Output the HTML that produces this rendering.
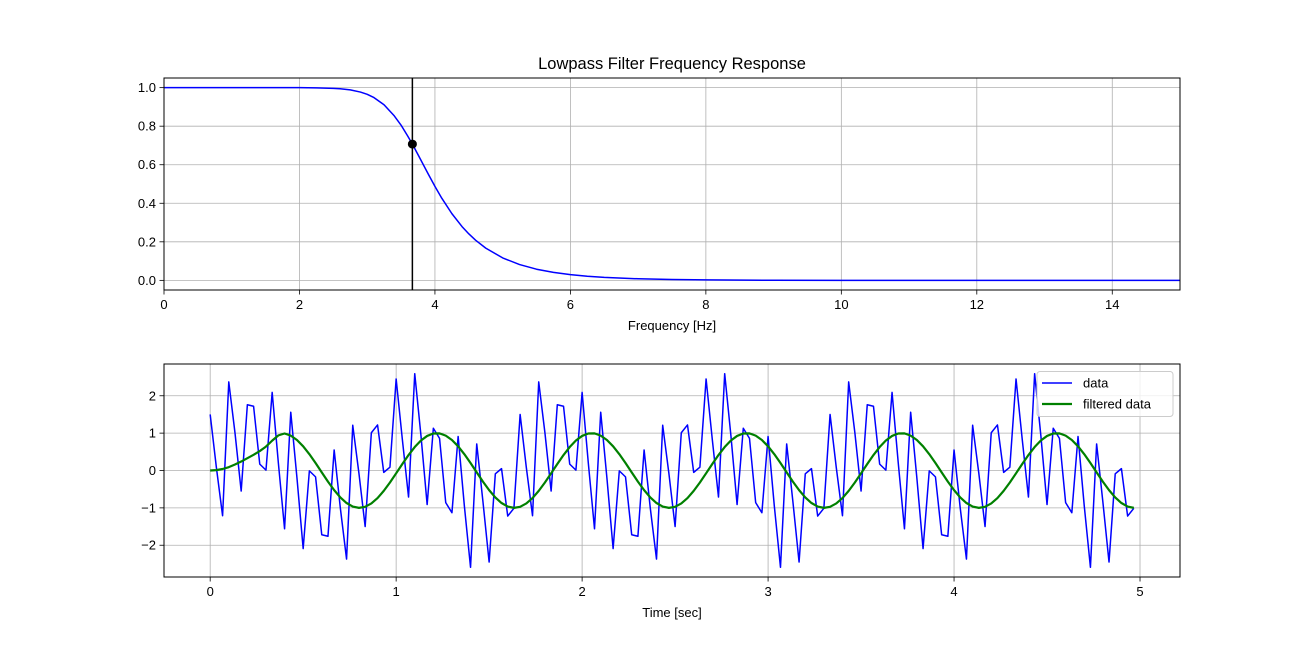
<!DOCTYPE html>
<html><head><meta charset="utf-8"><style>
body{margin:0;background:#fff;}
svg text{font-family:"Liberation Sans","DejaVu Sans",sans-serif;fill:#000;}
</style></head><body>
<svg id="fig" width="1311" height="648" xmlns="http://www.w3.org/2000/svg"></svg>
<script>
const freqHz=[0,0.5,1,1.5,2,2.25,2.5,2.6,2.75,2.9,3,3.1,3.25,3.4,3.5,3.6,3.667,3.75,3.9,4,4.1,4.25,4.4,4.5,4.6,4.75,5,5.25,5.5,5.75,6,6.25,6.5,7,7.5,8,9,10,12,15];
const gainVals=[1,1,1,1,0.9998,0.9990,0.9964,0.9941,0.9882,0.9771,0.9654,0.9484,0.9107,0.8532,0.8054,0.7478,0.7071,0.6524,0.5524,0.4875,0.4270,0.3463,0.2791,0.2413,0.2085,0.1673,0.1166,0.0819,0.0579,0.0412,0.0296,0.0213,0.0154,0.0082,0.0044,0.0023,0.0006,0.0002,0,0];
const cutoffHz=3.667, cutoffGain=0.7071;
const freqTicks=[0,2,4,6,8,10,12,14];
const gainTicks=[0.0,0.2,0.4,0.6,0.8,1.0];
const timeTicks=[0,1,2,3,4,5];
const ampTicks=[-2,-1,0,1,2];
const sampleRate=30;
const rawData=[1.50,0.08,-1.21,2.37,1.01,-0.55,1.76,1.72,0.17,0.01,2.09,0.20,-1.56,1.56,-0.20,-2.09,-0.01,-0.17,-1.72,-1.76,0.55,-1.01,-2.37,1.21,-0.08,-1.50,1.01,1.22,-0.05,0.09,2.45,0.83,-0.71,2.59,0.94,-0.91,1.13,0.86,-0.86,-1.13,0.91,-0.94,-2.59,0.71,-0.83,-2.45,-0.09,0.05,-1.22,-1.01,
1.50,0.08,-1.21,2.37,1.01,-0.55,1.76,1.72,0.17,0.01,2.09,0.20,-1.56,1.56,-0.20,-2.09,-0.01,-0.17,-1.72,-1.76,0.55,-1.01,-2.37,1.21,-0.08,-1.50,1.01,1.22,-0.05,0.09,2.45,0.83,-0.71,2.59,0.94,-0.91,1.13,0.86,-0.86,-1.13,0.91,-0.94,-2.59,0.71,-0.83,-2.45,-0.09,0.05,-1.22,-1.01,
1.50,0.08,-1.21,2.37,1.01,-0.55,1.76,1.72,0.17,0.01,2.09,0.20,-1.56,1.56,-0.20,-2.09,-0.01,-0.17,-1.72,-1.76,0.55,-1.01,-2.37,1.21,-0.08,-1.50,1.01,1.22,-0.05,0.09,2.45,0.83,-0.71,2.59,0.94,-0.91,1.13,0.86,-0.86,-1.13,0.91,-0.94,-2.59,0.71,-0.83,-2.45,-0.09,0.05,-1.22,-1.01];
const filteredData=[0,0.01,0.04,0.09,0.16,0.24,0.33,0.42,0.52,0.64,0.80,0.94,0.99,0.934,0.816,0.647,0.437,0.200,-0.050,-0.297,-0.525,-0.720,-0.870,-0.965,-1.000,
-0.972,-0.882,-0.737,-0.546,-0.321,-0.075,0.175,0.414,0.628,0.802,0.925,0.990,0.994,0.934,0.816,0.647,0.437,0.200,-0.050,-0.297,-0.525,-0.720,-0.870,-0.965,-1.000,
-0.972,-0.882,-0.737,-0.546,-0.321,-0.075,0.175,0.414,0.628,0.802,0.925,0.990,0.994,0.934,0.816,0.647,0.437,0.200,-0.050,-0.297,-0.525,-0.720,-0.870,-0.965,-1.000,
-0.972,-0.882,-0.737,-0.546,-0.321,-0.075,0.175,0.414,0.628,0.802,0.925,0.990,0.994,0.934,0.816,0.647,0.437,0.200,-0.050,-0.297,-0.525,-0.720,-0.870,-0.965,-1.000,
-0.972,-0.882,-0.737,-0.546,-0.321,-0.075,0.175,0.414,0.628,0.802,0.925,0.990,0.994,0.934,0.816,0.647,0.437,0.200,-0.050,-0.297,-0.525,-0.720,-0.870,-0.965,-1.000,
-0.972,-0.882,-0.737,-0.546,-0.321,-0.075,0.175,0.414,0.628,0.802,0.925,0.990,0.994,0.934,0.816,0.647,0.437,0.200,-0.050,-0.297,-0.525,-0.720,-0.870,-0.965,-1.000];

const NS='http://www.w3.org/2000/svg';
const svg=document.getElementById('fig');
function mk(tag,attrs,parent){const e=document.createElementNS(NS,tag);for(const k in attrs)e.setAttribute(k,attrs[k]);(parent||svg).appendChild(e);return e;}
function axes(L,T,R,B,x0,x1,y0,y1){return {L,T,R,B,sx:v=>L+(v-x0)/(x1-x0)*(R-L),sy:v=>B-(v-y0)/(y1-y0)*(B-T)};}

function frame(ax,xt,yt,fmtX,fmtY,name){
  const g=mk('g',{});
  
  
  xt.forEach(v=>{const x=ax.sx(v);
    const l=mk('line',{x1:x,x2:x,y1:ax.T,y2:ax.B,stroke:'#b0b0b0','stroke-width':0.8},g);
    
    mk('line',{x1:x,x2:x,y1:ax.B,y2:ax.B+4.5,stroke:'#000','stroke-width':0.8},g);
    const t=mk('text',{x:x,y:ax.B+19,'text-anchor':'middle','font-size':13},g);t.textContent=fmtX(v);
    });
  yt.forEach(v=>{const y=ax.sy(v);
    const l=mk('line',{x1:ax.L,x2:ax.R,y1:y,y2:y,stroke:'#b0b0b0','stroke-width':0.8},g);
    
    mk('line',{x1:ax.L-4.5,x2:ax.L,y1:y,y2:y,stroke:'#000','stroke-width':0.8},g);
    const t=mk('text',{x:ax.L-8,y:y+4.5,'text-anchor':'end','font-size':13},g);t.textContent=fmtY(v);
    });
  return g;
}
function border(ax,name){const r=mk('rect',{x:ax.L,y:ax.T,width:ax.R-ax.L,height:ax.B-ax.T,fill:'none',stroke:'#000','stroke-width':1});
  }
function clip(ax,id){const d=mk('defs',{});const c=mk('clipPath',{id:id},d);mk('rect',{x:ax.L,y:ax.T,width:ax.R-ax.L,height:ax.B-ax.T},c);}

// Top
const a1=axes(164,78,1180,290,0,15,-0.05,1.05);
frame(a1,freqTicks,gainTicks,v=>String(v),v=>v.toFixed(1),'response');
clip(a1,'c1');
let p=mk('polyline',{points:freqHz.map((f,i)=>a1.sx(f)+','+a1.sy(gainVals[i])).join(' '),fill:'none',stroke:'#0000ff','stroke-width':1.5,'stroke-linejoin':'round','clip-path':'url(#c1)'});

let vl=mk('line',{x1:a1.sx(cutoffHz),x2:a1.sx(cutoffHz),y1:a1.T,y2:a1.B,stroke:'#000','stroke-width':1.5});

let dot=mk('circle',{cx:a1.sx(cutoffHz),cy:a1.sy(cutoffGain),r:4.5,fill:'#000'});

border(a1,'response');
let t1=mk('text',{x:(a1.L+a1.R)/2,y:69,'text-anchor':'middle','font-size':16.5});t1.textContent='Lowpass Filter Frequency Response';

let xl1=mk('text',{x:(a1.L+a1.R)/2,y:330,'text-anchor':'middle','font-size':13});xl1.textContent='Frequency [Hz]';


// Bottom
const tmax=(rawData.length-1)/sampleRate, m=tmax*0.05;
const a2=axes(164,364,1180,577,-m,tmax+m,-2.85,2.85);
frame(a2,timeTicks,ampTicks,v=>String(v),v=>v<0?'\u2212'+String(-v):String(v),'signal');
clip(a2,'c2');
let p2=mk('polyline',{points:rawData.map((v,i)=>a2.sx(i/sampleRate)+','+a2.sy(v)).join(' '),fill:'none',stroke:'#0000ff','stroke-width':1.5,'stroke-linejoin':'round','clip-path':'url(#c2)'});

let p3=mk('polyline',{points:filteredData.map((v,i)=>a2.sx(i/sampleRate)+','+a2.sy(v)).join(' '),fill:'none',stroke:'#008000','stroke-width':2.2,'stroke-linejoin':'round','clip-path':'url(#c2)'});

border(a2,'signal');
let xl2=mk('text',{x:(a2.L+a2.R)/2,y:617,'text-anchor':'middle','font-size':13});xl2.textContent='Time [sec]';


// Legend
const lg=mk('g',{});

mk('rect',{x:1037,y:371.5,width:136,height:45,rx:3,fill:'#fff','fill-opacity':0.8,stroke:'#ccc','stroke-width':1},lg);
[['data','#0000ff',1.5,383],['filtered data','#008000',2.2,404]].forEach(([n,c,w,y])=>{
  const e=mk('g',{},lg);
  
  mk('line',{x1:1042,x2:1072,y1:y,y2:y,stroke:c,'stroke-width':w},e);
  const t=mk('text',{x:1083,y:y+4.5,'font-size':13},e);t.textContent=n;
});
</script>
</body></html>
